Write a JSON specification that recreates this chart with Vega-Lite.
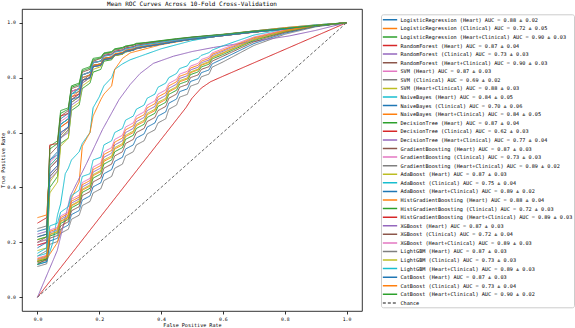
{"$schema":"https://vega.github.io/schema/vega-lite/v6.json","width":340,"height":302,"autosize":{"type":"none"},"padding":{"left":22,"top":9,"right":213,"bottom":17},"background":"white","config":{"view":{"stroke":"#000","strokeWidth":0.8},"font":"DejaVu Sans Mono"},"title":{"text":"Mean ROC Curves Across 10-Fold Cross-Validation","fontSize":6,"font":"DejaVu Sans Mono","fontWeight":"normal","anchor":"middle","offset":2.5,"color":"#000"},
"datasets":{"names":[{"s":0,"n":"LogisticRegression (Heart) AUC = 0.88 ± 0.02"},{"s":1,"n":"LogisticRegression (Clinical) AUC = 0.72 ± 0.05"},{"s":2,"n":"LogisticRegression (Heart+Clinical) AUC = 0.90 ± 0.03"},{"s":3,"n":"RandomForest (Heart) AUC = 0.87 ± 0.04"},{"s":4,"n":"RandomForest (Clinical) AUC = 0.73 ± 0.03"},{"s":5,"n":"RandomForest (Heart+Clinical) AUC = 0.90 ± 0.03"},{"s":6,"n":"SVM (Heart) AUC = 0.87 ± 0.03"},{"s":7,"n":"SVM (Clinical) AUC = 0.69 ± 0.02"},{"s":8,"n":"SVM (Heart+Clinical) AUC = 0.88 ± 0.03"},{"s":9,"n":"NaiveBayes (Heart) AUC = 0.84 ± 0.05"},{"s":10,"n":"NaiveBayes (Clinical) AUC = 0.70 ± 0.06"},{"s":11,"n":"NaiveBayes (Heart+Clinical) AUC = 0.84 ± 0.05"},{"s":12,"n":"DecisionTree (Heart) AUC = 0.87 ± 0.04"},{"s":13,"n":"DecisionTree (Clinical) AUC = 0.62 ± 0.03"},{"s":14,"n":"DecisionTree (Heart+Clinical) AUC = 0.77 ± 0.04"},{"s":15,"n":"GradientBoosting (Heart) AUC = 0.87 ± 0.03"},{"s":16,"n":"GradientBoosting (Clinical) AUC = 0.73 ± 0.03"},{"s":17,"n":"GradientBoosting (Heart+Clinical) AUC = 0.89 ± 0.02"},{"s":18,"n":"AdaBoost (Heart) AUC = 0.87 ± 0.03"},{"s":19,"n":"AdaBoost (Clinical) AUC = 0.75 ± 0.04"},{"s":20,"n":"AdaBoost (Heart+Clinical) AUC = 0.89 ± 0.02"},{"s":21,"n":"HistGradientBoosting (Heart) AUC = 0.88 ± 0.04"},{"s":22,"n":"HistGradientBoosting (Clinical) AUC = 0.72 ± 0.03"},{"s":23,"n":"HistGradientBoosting (Heart+Clinical) AUC = 0.89 ± 0.03"},{"s":24,"n":"XGBoost (Heart) AUC = 0.87 ± 0.03"},{"s":25,"n":"XGBoost (Clinical) AUC = 0.72 ± 0.04"},{"s":26,"n":"XGBoost (Heart+Clinical) AUC = 0.89 ± 0.03"},{"s":27,"n":"LightGBM (Heart) AUC = 0.87 ± 0.03"},{"s":28,"n":"LightGBM (Clinical) AUC = 0.73 ± 0.03"},{"s":29,"n":"LightGBM (Heart+Clinical) AUC = 0.89 ± 0.03"},{"s":30,"n":"CatBoost (Heart) AUC = 0.87 ± 0.03"},{"s":31,"n":"CatBoost (Clinical) AUC = 0.73 ± 0.04"},{"s":32,"n":"CatBoost (Heart+Clinical) AUC = 0.90 ± 0.02"},{"s":33,"n":"Chance"}],
"pts":[
{"s":0,"x":0,"y":0.24},{"s":0,"x":0.03,"y":0.25},{"s":0,"x":0.04,"y":0.5},{"s":0,"x":0.065,"y":0.52},{"s":0,"x":0.075,"y":0.63},{"s":0,"x":0.1,"y":0.65},{"s":0,"x":0.11,"y":0.74},{"s":0,"x":0.135,"y":0.75},{"s":0,"x":0.145,"y":0.8},{"s":0,"x":0.17,"y":0.81},{"s":0,"x":0.18,"y":0.845},{"s":0,"x":0.205,"y":0.85},{"s":0,"x":0.215,"y":0.87},{"s":0,"x":0.24,"y":0.875},{"s":0,"x":0.25,"y":0.885},{"s":0,"x":0.275,"y":0.89},{"s":0,"x":0.285,"y":0.9},{"s":0,"x":0.31,"y":0.905},{"s":0,"x":0.32,"y":0.91},{"s":0,"x":0.35,"y":0.915},{"s":0,"x":0.4,"y":0.925},{"s":0,"x":0.45,"y":0.935},{"s":0,"x":0.5,"y":0.942},{"s":0,"x":0.6,"y":0.955},{"s":0,"x":0.7,"y":0.967},{"s":0,"x":0.8,"y":0.978},{"s":0,"x":0.9,"y":0.989},{"s":0,"x":1,"y":1},
{"s":1,"x":0,"y":0.133},{"s":1,"x":0.03,"y":0.143},{"s":1,"x":0.04,"y":0.228},{"s":1,"x":0.065,"y":0.238},{"s":1,"x":0.075,"y":0.275},{"s":1,"x":0.1,"y":0.29},{"s":1,"x":0.11,"y":0.333},{"s":1,"x":0.135,"y":0.348},{"s":1,"x":0.145,"y":0.39},{"s":1,"x":0.17,"y":0.405},{"s":1,"x":0.18,"y":0.443},{"s":1,"x":0.205,"y":0.458},{"s":1,"x":0.215,"y":0.495},{"s":1,"x":0.24,"y":0.51},{"s":1,"x":0.25,"y":0.54},{"s":1,"x":0.275,"y":0.555},{"s":1,"x":0.285,"y":0.585},{"s":1,"x":0.31,"y":0.6},{"s":1,"x":0.32,"y":0.625},{"s":1,"x":0.345,"y":0.64},{"s":1,"x":0.355,"y":0.665},{"s":1,"x":0.38,"y":0.68},{"s":1,"x":0.39,"y":0.705},{"s":1,"x":0.415,"y":0.72},{"s":1,"x":0.425,"y":0.748},{"s":1,"x":0.45,"y":0.763},{"s":1,"x":0.46,"y":0.785},{"s":1,"x":0.485,"y":0.795},{"s":1,"x":0.495,"y":0.818},{"s":1,"x":0.52,"y":0.828},{"s":1,"x":0.53,"y":0.845},{"s":1,"x":0.555,"y":0.855},{"s":1,"x":0.565,"y":0.873},{"s":1,"x":0.6,"y":0.889},{"s":1,"x":0.7,"y":0.938},{"s":1,"x":0.8,"y":0.968},{"s":1,"x":0.9,"y":0.989},{"s":1,"x":1,"y":1},
{"s":2,"x":0,"y":0.2},{"s":2,"x":0.03,"y":0.21},{"s":2,"x":0.04,"y":0.55},{"s":2,"x":0.065,"y":0.57},{"s":2,"x":0.075,"y":0.68},{"s":2,"x":0.1,"y":0.69},{"s":2,"x":0.11,"y":0.77},{"s":2,"x":0.135,"y":0.78},{"s":2,"x":0.145,"y":0.83},{"s":2,"x":0.17,"y":0.84},{"s":2,"x":0.18,"y":0.87},{"s":2,"x":0.205,"y":0.875},{"s":2,"x":0.215,"y":0.89},{"s":2,"x":0.24,"y":0.895},{"s":2,"x":0.25,"y":0.905},{"s":2,"x":0.275,"y":0.91},{"s":2,"x":0.285,"y":0.915},{"s":2,"x":0.31,"y":0.92},{"s":2,"x":0.32,"y":0.925},{"s":2,"x":0.35,"y":0.928},{"s":2,"x":0.4,"y":0.935},{"s":2,"x":0.45,"y":0.942},{"s":2,"x":0.5,"y":0.948},{"s":2,"x":0.6,"y":0.958},{"s":2,"x":0.7,"y":0.97},{"s":2,"x":0.8,"y":0.98},{"s":2,"x":0.9,"y":0.99},{"s":2,"x":1,"y":1},
{"s":3,"x":0,"y":0.27},{"s":3,"x":0.03,"y":0.29},{"s":3,"x":0.04,"y":0.47},{"s":3,"x":0.065,"y":0.5},{"s":3,"x":0.075,"y":0.62},{"s":3,"x":0.1,"y":0.64},{"s":3,"x":0.11,"y":0.73},{"s":3,"x":0.135,"y":0.74},{"s":3,"x":0.145,"y":0.79},{"s":3,"x":0.17,"y":0.8},{"s":3,"x":0.18,"y":0.84},{"s":3,"x":0.205,"y":0.845},{"s":3,"x":0.215,"y":0.865},{"s":3,"x":0.24,"y":0.87},{"s":3,"x":0.25,"y":0.88},{"s":3,"x":0.275,"y":0.887},{"s":3,"x":0.285,"y":0.895},{"s":3,"x":0.31,"y":0.9},{"s":3,"x":0.32,"y":0.905},{"s":3,"x":0.35,"y":0.912},{"s":3,"x":0.4,"y":0.922},{"s":3,"x":0.45,"y":0.932},{"s":3,"x":0.5,"y":0.94},{"s":3,"x":0.6,"y":0.953},{"s":3,"x":0.7,"y":0.965},{"s":3,"x":0.8,"y":0.977},{"s":3,"x":0.9,"y":0.988},{"s":3,"x":1,"y":1},
{"s":4,"x":0,"y":0.137},{"s":4,"x":0.03,"y":0.147},{"s":4,"x":0.04,"y":0.235},{"s":4,"x":0.065,"y":0.245},{"s":4,"x":0.075,"y":0.284},{"s":4,"x":0.1,"y":0.299},{"s":4,"x":0.11,"y":0.343},{"s":4,"x":0.135,"y":0.358},{"s":4,"x":0.145,"y":0.402},{"s":4,"x":0.17,"y":0.417},{"s":4,"x":0.18,"y":0.456},{"s":4,"x":0.205,"y":0.471},{"s":4,"x":0.215,"y":0.51},{"s":4,"x":0.24,"y":0.525},{"s":4,"x":0.25,"y":0.555},{"s":4,"x":0.275,"y":0.57},{"s":4,"x":0.285,"y":0.6},{"s":4,"x":0.31,"y":0.615},{"s":4,"x":0.32,"y":0.64},{"s":4,"x":0.345,"y":0.655},{"s":4,"x":0.355,"y":0.68},{"s":4,"x":0.38,"y":0.695},{"s":4,"x":0.39,"y":0.72},{"s":4,"x":0.415,"y":0.735},{"s":4,"x":0.425,"y":0.761},{"s":4,"x":0.45,"y":0.776},{"s":4,"x":0.46,"y":0.797},{"s":4,"x":0.485,"y":0.807},{"s":4,"x":0.495,"y":0.828},{"s":4,"x":0.52,"y":0.838},{"s":4,"x":0.53,"y":0.854},{"s":4,"x":0.555,"y":0.864},{"s":4,"x":0.565,"y":0.88},{"s":4,"x":0.6,"y":0.896},{"s":4,"x":0.7,"y":0.942},{"s":4,"x":0.8,"y":0.97},{"s":4,"x":0.9,"y":0.99},{"s":4,"x":1,"y":1},
{"s":5,"x":0,"y":0.22},{"s":5,"x":0.03,"y":0.23},{"s":5,"x":0.04,"y":0.52},{"s":5,"x":0.065,"y":0.55},{"s":5,"x":0.075,"y":0.66},{"s":5,"x":0.1,"y":0.68},{"s":5,"x":0.11,"y":0.76},{"s":5,"x":0.135,"y":0.77},{"s":5,"x":0.145,"y":0.82},{"s":5,"x":0.17,"y":0.83},{"s":5,"x":0.18,"y":0.86},{"s":5,"x":0.205,"y":0.87},{"s":5,"x":0.215,"y":0.885},{"s":5,"x":0.24,"y":0.89},{"s":5,"x":0.25,"y":0.9},{"s":5,"x":0.275,"y":0.905},{"s":5,"x":0.285,"y":0.912},{"s":5,"x":0.31,"y":0.918},{"s":5,"x":0.32,"y":0.922},{"s":5,"x":0.35,"y":0.926},{"s":5,"x":0.4,"y":0.933},{"s":5,"x":0.45,"y":0.94},{"s":5,"x":0.5,"y":0.947},{"s":5,"x":0.6,"y":0.957},{"s":5,"x":0.7,"y":0.969},{"s":5,"x":0.8,"y":0.979},{"s":5,"x":0.9,"y":0.99},{"s":5,"x":1,"y":1},
{"s":6,"x":0,"y":0.19},{"s":6,"x":0.03,"y":0.2},{"s":6,"x":0.04,"y":0.45},{"s":6,"x":0.065,"y":0.48},{"s":6,"x":0.075,"y":0.6},{"s":6,"x":0.1,"y":0.62},{"s":6,"x":0.11,"y":0.72},{"s":6,"x":0.135,"y":0.74},{"s":6,"x":0.145,"y":0.79},{"s":6,"x":0.17,"y":0.8},{"s":6,"x":0.18,"y":0.84},{"s":6,"x":0.205,"y":0.85},{"s":6,"x":0.215,"y":0.87},{"s":6,"x":0.24,"y":0.875},{"s":6,"x":0.25,"y":0.885},{"s":6,"x":0.275,"y":0.89},{"s":6,"x":0.285,"y":0.897},{"s":6,"x":0.31,"y":0.902},{"s":6,"x":0.32,"y":0.907},{"s":6,"x":0.35,"y":0.913},{"s":6,"x":0.4,"y":0.922},{"s":6,"x":0.45,"y":0.932},{"s":6,"x":0.5,"y":0.94},{"s":6,"x":0.6,"y":0.953},{"s":6,"x":0.7,"y":0.966},{"s":6,"x":0.8,"y":0.977},{"s":6,"x":0.9,"y":0.988},{"s":6,"x":1,"y":1},
{"s":7,"x":0,"y":0.112},{"s":7,"x":0.03,"y":0.122},{"s":7,"x":0.04,"y":0.193},{"s":7,"x":0.065,"y":0.203},{"s":7,"x":0.075,"y":0.233},{"s":7,"x":0.1,"y":0.248},{"s":7,"x":0.11,"y":0.284},{"s":7,"x":0.135,"y":0.299},{"s":7,"x":0.145,"y":0.334},{"s":7,"x":0.17,"y":0.349},{"s":7,"x":0.18,"y":0.38},{"s":7,"x":0.205,"y":0.395},{"s":7,"x":0.215,"y":0.425},{"s":7,"x":0.24,"y":0.44},{"s":7,"x":0.25,"y":0.47},{"s":7,"x":0.275,"y":0.485},{"s":7,"x":0.285,"y":0.515},{"s":7,"x":0.31,"y":0.53},{"s":7,"x":0.32,"y":0.555},{"s":7,"x":0.345,"y":0.57},{"s":7,"x":0.355,"y":0.595},{"s":7,"x":0.38,"y":0.61},{"s":7,"x":0.39,"y":0.635},{"s":7,"x":0.415,"y":0.65},{"s":7,"x":0.425,"y":0.685},{"s":7,"x":0.45,"y":0.7},{"s":7,"x":0.46,"y":0.729},{"s":7,"x":0.485,"y":0.739},{"s":7,"x":0.495,"y":0.769},{"s":7,"x":0.52,"y":0.779},{"s":7,"x":0.53,"y":0.803},{"s":7,"x":0.555,"y":0.813},{"s":7,"x":0.565,"y":0.838},{"s":7,"x":0.6,"y":0.857},{"s":7,"x":0.7,"y":0.917},{"s":7,"x":0.8,"y":0.958},{"s":7,"x":0.9,"y":0.985},{"s":7,"x":1,"y":1},
{"s":8,"x":0,"y":0.17},{"s":8,"x":0.03,"y":0.18},{"s":8,"x":0.04,"y":0.42},{"s":8,"x":0.065,"y":0.46},{"s":8,"x":0.075,"y":0.58},{"s":8,"x":0.1,"y":0.61},{"s":8,"x":0.11,"y":0.71},{"s":8,"x":0.135,"y":0.73},{"s":8,"x":0.145,"y":0.78},{"s":8,"x":0.17,"y":0.8},{"s":8,"x":0.18,"y":0.84},{"s":8,"x":0.205,"y":0.85},{"s":8,"x":0.215,"y":0.87},{"s":8,"x":0.24,"y":0.875},{"s":8,"x":0.25,"y":0.885},{"s":8,"x":0.275,"y":0.89},{"s":8,"x":0.285,"y":0.897},{"s":8,"x":0.31,"y":0.903},{"s":8,"x":0.32,"y":0.908},{"s":8,"x":0.35,"y":0.914},{"s":8,"x":0.4,"y":0.923},{"s":8,"x":0.45,"y":0.933},{"s":8,"x":0.5,"y":0.941},{"s":8,"x":0.6,"y":0.954},{"s":8,"x":0.7,"y":0.966},{"s":8,"x":0.8,"y":0.977},{"s":8,"x":0.9,"y":0.988},{"s":8,"x":1,"y":1},
{"s":9,"x":0,"y":0.12},{"s":9,"x":0.03,"y":0.13},{"s":9,"x":0.05,"y":0.2},{"s":9,"x":0.065,"y":0.3},{"s":9,"x":0.075,"y":0.34},{"s":9,"x":0.09,"y":0.45},{"s":9,"x":0.1,"y":0.47},{"s":9,"x":0.11,"y":0.5},{"s":9,"x":0.135,"y":0.53},{"s":9,"x":0.145,"y":0.56},{"s":9,"x":0.17,"y":0.6},{"s":9,"x":0.18,"y":0.69},{"s":9,"x":0.2,"y":0.73},{"s":9,"x":0.215,"y":0.77},{"s":9,"x":0.24,"y":0.8},{"s":9,"x":0.25,"y":0.83},{"s":9,"x":0.275,"y":0.85},{"s":9,"x":0.3,"y":0.865},{"s":9,"x":0.35,"y":0.885},{"s":9,"x":0.4,"y":0.905},{"s":9,"x":0.5,"y":0.935},{"s":9,"x":0.6,"y":0.955},{"s":9,"x":0.7,"y":0.97},{"s":9,"x":0.8,"y":0.982},{"s":9,"x":0.9,"y":0.992},{"s":9,"x":1,"y":1},
{"s":10,"x":0,"y":0.119},{"s":10,"x":0.03,"y":0.129},{"s":10,"x":0.04,"y":0.205},{"s":10,"x":0.065,"y":0.215},{"s":10,"x":0.075,"y":0.248},{"s":10,"x":0.1,"y":0.263},{"s":10,"x":0.11,"y":0.301},{"s":10,"x":0.135,"y":0.316},{"s":10,"x":0.145,"y":0.354},{"s":10,"x":0.17,"y":0.369},{"s":10,"x":0.18,"y":0.402},{"s":10,"x":0.205,"y":0.417},{"s":10,"x":0.215,"y":0.45},{"s":10,"x":0.24,"y":0.465},{"s":10,"x":0.25,"y":0.495},{"s":10,"x":0.275,"y":0.51},{"s":10,"x":0.285,"y":0.54},{"s":10,"x":0.31,"y":0.555},{"s":10,"x":0.32,"y":0.58},{"s":10,"x":0.345,"y":0.595},{"s":10,"x":0.355,"y":0.62},{"s":10,"x":0.38,"y":0.635},{"s":10,"x":0.39,"y":0.66},{"s":10,"x":0.415,"y":0.675},{"s":10,"x":0.425,"y":0.707},{"s":10,"x":0.45,"y":0.722},{"s":10,"x":0.46,"y":0.749},{"s":10,"x":0.485,"y":0.759},{"s":10,"x":0.495,"y":0.786},{"s":10,"x":0.52,"y":0.796},{"s":10,"x":0.53,"y":0.818},{"s":10,"x":0.555,"y":0.828},{"s":10,"x":0.565,"y":0.85},{"s":10,"x":0.6,"y":0.869},{"s":10,"x":0.7,"y":0.924},{"s":10,"x":0.8,"y":0.962},{"s":10,"x":0.9,"y":0.987},{"s":10,"x":1,"y":1},
{"s":11,"x":0,"y":0.13},{"s":11,"x":0.03,"y":0.14},{"s":11,"x":0.065,"y":0.2},{"s":11,"x":0.075,"y":0.24},{"s":11,"x":0.1,"y":0.3},{"s":11,"x":0.11,"y":0.36},{"s":11,"x":0.135,"y":0.42},{"s":11,"x":0.145,"y":0.55},{"s":11,"x":0.17,"y":0.6},{"s":11,"x":0.18,"y":0.66},{"s":11,"x":0.205,"y":0.72},{"s":11,"x":0.215,"y":0.74},{"s":11,"x":0.24,"y":0.77},{"s":11,"x":0.25,"y":0.83},{"s":11,"x":0.275,"y":0.87},{"s":11,"x":0.3,"y":0.89},{"s":11,"x":0.35,"y":0.905},{"s":11,"x":0.4,"y":0.92},{"s":11,"x":0.5,"y":0.94},{"s":11,"x":0.6,"y":0.957},{"s":11,"x":0.7,"y":0.97},{"s":11,"x":0.8,"y":0.982},{"s":11,"x":0.9,"y":0.992},{"s":11,"x":1,"y":1},
{"s":12,"x":0,"y":0.12},{"s":12,"x":0.03,"y":0.14},{"s":12,"x":0.04,"y":0.4},{"s":12,"x":0.065,"y":0.44},{"s":12,"x":0.075,"y":0.56},{"s":12,"x":0.1,"y":0.58},{"s":12,"x":0.11,"y":0.68},{"s":12,"x":0.135,"y":0.7},{"s":12,"x":0.145,"y":0.76},{"s":12,"x":0.17,"y":0.78},{"s":12,"x":0.18,"y":0.82},{"s":12,"x":0.205,"y":0.83},{"s":12,"x":0.215,"y":0.86},{"s":12,"x":0.24,"y":0.865},{"s":12,"x":0.25,"y":0.88},{"s":12,"x":0.275,"y":0.885},{"s":12,"x":0.285,"y":0.893},{"s":12,"x":0.31,"y":0.9},{"s":12,"x":0.32,"y":0.905},{"s":12,"x":0.35,"y":0.912},{"s":12,"x":0.4,"y":0.922},{"s":12,"x":0.45,"y":0.932},{"s":12,"x":0.5,"y":0.94},{"s":12,"x":0.6,"y":0.953},{"s":12,"x":0.7,"y":0.966},{"s":12,"x":0.8,"y":0.977},{"s":12,"x":0.9,"y":0.988},{"s":12,"x":1,"y":1},
{"s":13,"x":0,"y":0},{"s":13,"x":0.48,"y":0.69},{"s":13,"x":0.5,"y":0.725},{"s":13,"x":0.53,"y":0.762},{"s":13,"x":0.56,"y":0.785},{"s":13,"x":0.6,"y":0.805},{"s":13,"x":1,"y":1},
{"s":14,"x":0,"y":0},{"s":14,"x":0.064,"y":0.17},{"s":14,"x":0.107,"y":0.37},{"s":14,"x":0.16,"y":0.49},{"s":14,"x":0.21,"y":0.61},{"s":14,"x":0.264,"y":0.72},{"s":14,"x":0.3,"y":0.775},{"s":14,"x":0.332,"y":0.815},{"s":14,"x":0.375,"y":0.852},{"s":14,"x":0.44,"y":0.878},{"s":14,"x":0.5,"y":0.895},{"s":14,"x":0.57,"y":0.91},{"s":14,"x":0.7,"y":0.932},{"s":14,"x":0.815,"y":0.952},{"s":14,"x":0.9,"y":0.972},{"s":14,"x":1,"y":1},
{"s":15,"x":0,"y":0.2},{"s":15,"x":0.03,"y":0.22},{"s":15,"x":0.04,"y":0.44},{"s":15,"x":0.065,"y":0.47},{"s":15,"x":0.075,"y":0.59},{"s":15,"x":0.1,"y":0.62},{"s":15,"x":0.11,"y":0.72},{"s":15,"x":0.135,"y":0.74},{"s":15,"x":0.145,"y":0.79},{"s":15,"x":0.17,"y":0.81},{"s":15,"x":0.18,"y":0.845},{"s":15,"x":0.205,"y":0.85},{"s":15,"x":0.215,"y":0.87},{"s":15,"x":0.24,"y":0.875},{"s":15,"x":0.25,"y":0.885},{"s":15,"x":0.275,"y":0.89},{"s":15,"x":0.285,"y":0.897},{"s":15,"x":0.31,"y":0.903},{"s":15,"x":0.32,"y":0.908},{"s":15,"x":0.35,"y":0.914},{"s":15,"x":0.4,"y":0.923},{"s":15,"x":0.45,"y":0.933},{"s":15,"x":0.5,"y":0.941},{"s":15,"x":0.6,"y":0.954},{"s":15,"x":0.7,"y":0.966},{"s":15,"x":0.8,"y":0.977},{"s":15,"x":0.9,"y":0.988},{"s":15,"x":1,"y":1},
{"s":16,"x":0,"y":0.143},{"s":16,"x":0.03,"y":0.153},{"s":16,"x":0.04,"y":0.245},{"s":16,"x":0.065,"y":0.255},{"s":16,"x":0.075,"y":0.296},{"s":16,"x":0.1,"y":0.311},{"s":16,"x":0.11,"y":0.357},{"s":16,"x":0.135,"y":0.372},{"s":16,"x":0.145,"y":0.418},{"s":16,"x":0.17,"y":0.433},{"s":16,"x":0.18,"y":0.474},{"s":16,"x":0.205,"y":0.489},{"s":16,"x":0.215,"y":0.53},{"s":16,"x":0.24,"y":0.545},{"s":16,"x":0.25,"y":0.575},{"s":16,"x":0.275,"y":0.59},{"s":16,"x":0.285,"y":0.62},{"s":16,"x":0.31,"y":0.635},{"s":16,"x":0.32,"y":0.66},{"s":16,"x":0.345,"y":0.675},{"s":16,"x":0.355,"y":0.7},{"s":16,"x":0.38,"y":0.715},{"s":16,"x":0.39,"y":0.74},{"s":16,"x":0.415,"y":0.755},{"s":16,"x":0.425,"y":0.779},{"s":16,"x":0.45,"y":0.794},{"s":16,"x":0.46,"y":0.813},{"s":16,"x":0.485,"y":0.823},{"s":16,"x":0.495,"y":0.842},{"s":16,"x":0.52,"y":0.852},{"s":16,"x":0.53,"y":0.866},{"s":16,"x":0.555,"y":0.876},{"s":16,"x":0.565,"y":0.89},{"s":16,"x":0.6,"y":0.905},{"s":16,"x":0.7,"y":0.948},{"s":16,"x":0.8,"y":0.974},{"s":16,"x":0.9,"y":0.99},{"s":16,"x":1,"y":1},
{"s":17,"x":0,"y":0.15},{"s":17,"x":0.03,"y":0.17},{"s":17,"x":0.04,"y":0.47},{"s":17,"x":0.065,"y":0.5},{"s":17,"x":0.075,"y":0.63},{"s":17,"x":0.1,"y":0.65},{"s":17,"x":0.11,"y":0.74},{"s":17,"x":0.135,"y":0.76},{"s":17,"x":0.145,"y":0.81},{"s":17,"x":0.17,"y":0.82},{"s":17,"x":0.18,"y":0.855},{"s":17,"x":0.205,"y":0.86},{"s":17,"x":0.215,"y":0.88},{"s":17,"x":0.24,"y":0.885},{"s":17,"x":0.25,"y":0.895},{"s":17,"x":0.275,"y":0.9},{"s":17,"x":0.285,"y":0.907},{"s":17,"x":0.31,"y":0.912},{"s":17,"x":0.32,"y":0.917},{"s":17,"x":0.35,"y":0.922},{"s":17,"x":0.4,"y":0.93},{"s":17,"x":0.45,"y":0.938},{"s":17,"x":0.5,"y":0.945},{"s":17,"x":0.6,"y":0.956},{"s":17,"x":0.7,"y":0.968},{"s":17,"x":0.8,"y":0.978},{"s":17,"x":0.9,"y":0.989},{"s":17,"x":1,"y":1},
{"s":18,"x":0,"y":0.21},{"s":18,"x":0.03,"y":0.22},{"s":18,"x":0.04,"y":0.38},{"s":18,"x":0.065,"y":0.42},{"s":18,"x":0.075,"y":0.55},{"s":18,"x":0.1,"y":0.58},{"s":18,"x":0.11,"y":0.69},{"s":18,"x":0.135,"y":0.71},{"s":18,"x":0.145,"y":0.77},{"s":18,"x":0.17,"y":0.79},{"s":18,"x":0.18,"y":0.83},{"s":18,"x":0.205,"y":0.84},{"s":18,"x":0.215,"y":0.865},{"s":18,"x":0.24,"y":0.87},{"s":18,"x":0.25,"y":0.88},{"s":18,"x":0.275,"y":0.886},{"s":18,"x":0.285,"y":0.894},{"s":18,"x":0.31,"y":0.9},{"s":18,"x":0.32,"y":0.906},{"s":18,"x":0.35,"y":0.913},{"s":18,"x":0.4,"y":0.922},{"s":18,"x":0.45,"y":0.932},{"s":18,"x":0.5,"y":0.94},{"s":18,"x":0.6,"y":0.953},{"s":18,"x":0.7,"y":0.966},{"s":18,"x":0.8,"y":0.977},{"s":18,"x":0.9,"y":0.988},{"s":18,"x":1,"y":1},
{"s":19,"x":0,"y":0.15},{"s":19,"x":0.03,"y":0.16},{"s":19,"x":0.04,"y":0.26},{"s":19,"x":0.065,"y":0.27},{"s":19,"x":0.075,"y":0.31},{"s":19,"x":0.1,"y":0.33},{"s":19,"x":0.11,"y":0.37},{"s":19,"x":0.135,"y":0.39},{"s":19,"x":0.145,"y":0.44},{"s":19,"x":0.17,"y":0.45},{"s":19,"x":0.18,"y":0.5},{"s":19,"x":0.205,"y":0.51},{"s":19,"x":0.215,"y":0.555},{"s":19,"x":0.24,"y":0.57},{"s":19,"x":0.25,"y":0.6},{"s":19,"x":0.275,"y":0.615},{"s":19,"x":0.285,"y":0.645},{"s":19,"x":0.31,"y":0.66},{"s":19,"x":0.32,"y":0.685},{"s":19,"x":0.345,"y":0.7},{"s":19,"x":0.355,"y":0.725},{"s":19,"x":0.38,"y":0.74},{"s":19,"x":0.39,"y":0.765},{"s":19,"x":0.415,"y":0.78},{"s":19,"x":0.425,"y":0.8},{"s":19,"x":0.45,"y":0.815},{"s":19,"x":0.46,"y":0.833},{"s":19,"x":0.485,"y":0.843},{"s":19,"x":0.495,"y":0.86},{"s":19,"x":0.52,"y":0.87},{"s":19,"x":0.53,"y":0.881},{"s":19,"x":0.555,"y":0.891},{"s":19,"x":0.565,"y":0.9},{"s":19,"x":0.6,"y":0.916},{"s":19,"x":0.7,"y":0.955},{"s":19,"x":0.8,"y":0.977},{"s":19,"x":0.9,"y":0.992},{"s":19,"x":1,"y":1},
{"s":20,"x":0,"y":0.18},{"s":20,"x":0.03,"y":0.2},{"s":20,"x":0.04,"y":0.5},{"s":20,"x":0.065,"y":0.53},{"s":20,"x":0.075,"y":0.65},{"s":20,"x":0.1,"y":0.67},{"s":20,"x":0.11,"y":0.75},{"s":20,"x":0.135,"y":0.76},{"s":20,"x":0.145,"y":0.81},{"s":20,"x":0.17,"y":0.82},{"s":20,"x":0.18,"y":0.855},{"s":20,"x":0.205,"y":0.86},{"s":20,"x":0.215,"y":0.88},{"s":20,"x":0.24,"y":0.885},{"s":20,"x":0.25,"y":0.895},{"s":20,"x":0.275,"y":0.9},{"s":20,"x":0.285,"y":0.907},{"s":20,"x":0.31,"y":0.912},{"s":20,"x":0.32,"y":0.917},{"s":20,"x":0.35,"y":0.922},{"s":20,"x":0.4,"y":0.93},{"s":20,"x":0.45,"y":0.938},{"s":20,"x":0.5,"y":0.945},{"s":20,"x":0.6,"y":0.956},{"s":20,"x":0.7,"y":0.968},{"s":20,"x":0.8,"y":0.978},{"s":20,"x":0.9,"y":0.989},{"s":20,"x":1,"y":1},
{"s":21,"x":0,"y":0.29},{"s":21,"x":0.03,"y":0.3},{"s":21,"x":0.04,"y":0.48},{"s":21,"x":0.065,"y":0.51},{"s":21,"x":0.075,"y":0.62},{"s":21,"x":0.1,"y":0.64},{"s":21,"x":0.11,"y":0.73},{"s":21,"x":0.135,"y":0.75},{"s":21,"x":0.145,"y":0.8},{"s":21,"x":0.17,"y":0.81},{"s":21,"x":0.18,"y":0.845},{"s":21,"x":0.205,"y":0.85},{"s":21,"x":0.215,"y":0.87},{"s":21,"x":0.24,"y":0.875},{"s":21,"x":0.25,"y":0.887},{"s":21,"x":0.275,"y":0.892},{"s":21,"x":0.285,"y":0.9},{"s":21,"x":0.31,"y":0.905},{"s":21,"x":0.32,"y":0.91},{"s":21,"x":0.35,"y":0.916},{"s":21,"x":0.4,"y":0.925},{"s":21,"x":0.45,"y":0.934},{"s":21,"x":0.5,"y":0.942},{"s":21,"x":0.6,"y":0.955},{"s":21,"x":0.7,"y":0.967},{"s":21,"x":0.8,"y":0.978},{"s":21,"x":0.9,"y":0.989},{"s":21,"x":1,"y":1},
{"s":22,"x":0,"y":0.13},{"s":22,"x":0.03,"y":0.14},{"s":22,"x":0.04,"y":0.223},{"s":22,"x":0.065,"y":0.233},{"s":22,"x":0.075,"y":0.269},{"s":22,"x":0.1,"y":0.284},{"s":22,"x":0.11,"y":0.326},{"s":22,"x":0.135,"y":0.341},{"s":22,"x":0.145,"y":0.382},{"s":22,"x":0.17,"y":0.397},{"s":22,"x":0.18,"y":0.434},{"s":22,"x":0.205,"y":0.449},{"s":22,"x":0.215,"y":0.485},{"s":22,"x":0.24,"y":0.5},{"s":22,"x":0.25,"y":0.53},{"s":22,"x":0.275,"y":0.545},{"s":22,"x":0.285,"y":0.575},{"s":22,"x":0.31,"y":0.59},{"s":22,"x":0.32,"y":0.615},{"s":22,"x":0.345,"y":0.63},{"s":22,"x":0.355,"y":0.655},{"s":22,"x":0.38,"y":0.67},{"s":22,"x":0.39,"y":0.695},{"s":22,"x":0.415,"y":0.71},{"s":22,"x":0.425,"y":0.739},{"s":22,"x":0.45,"y":0.754},{"s":22,"x":0.46,"y":0.777},{"s":22,"x":0.485,"y":0.787},{"s":22,"x":0.495,"y":0.811},{"s":22,"x":0.52,"y":0.821},{"s":22,"x":0.53,"y":0.839},{"s":22,"x":0.555,"y":0.849},{"s":22,"x":0.565,"y":0.868},{"s":22,"x":0.6,"y":0.884},{"s":22,"x":0.7,"y":0.935},{"s":22,"x":0.8,"y":0.967},{"s":22,"x":0.9,"y":0.988},{"s":22,"x":1,"y":1},
{"s":23,"x":0,"y":0.19},{"s":23,"x":0.03,"y":0.2},{"s":23,"x":0.04,"y":0.555},{"s":23,"x":0.065,"y":0.56},{"s":23,"x":0.075,"y":0.66},{"s":23,"x":0.1,"y":0.67},{"s":23,"x":0.11,"y":0.75},{"s":23,"x":0.135,"y":0.76},{"s":23,"x":0.145,"y":0.81},{"s":23,"x":0.17,"y":0.82},{"s":23,"x":0.18,"y":0.855},{"s":23,"x":0.205,"y":0.86},{"s":23,"x":0.215,"y":0.88},{"s":23,"x":0.24,"y":0.885},{"s":23,"x":0.25,"y":0.895},{"s":23,"x":0.275,"y":0.9},{"s":23,"x":0.285,"y":0.907},{"s":23,"x":0.31,"y":0.912},{"s":23,"x":0.32,"y":0.917},{"s":23,"x":0.35,"y":0.922},{"s":23,"x":0.4,"y":0.93},{"s":23,"x":0.45,"y":0.938},{"s":23,"x":0.5,"y":0.945},{"s":23,"x":0.6,"y":0.956},{"s":23,"x":0.7,"y":0.968},{"s":23,"x":0.8,"y":0.978},{"s":23,"x":0.9,"y":0.989},{"s":23,"x":1,"y":1},
{"s":24,"x":0,"y":0.23},{"s":24,"x":0.03,"y":0.24},{"s":24,"x":0.04,"y":0.43},{"s":24,"x":0.065,"y":0.46},{"s":24,"x":0.075,"y":0.58},{"s":24,"x":0.1,"y":0.6},{"s":24,"x":0.11,"y":0.7},{"s":24,"x":0.135,"y":0.72},{"s":24,"x":0.145,"y":0.78},{"s":24,"x":0.17,"y":0.8},{"s":24,"x":0.18,"y":0.84},{"s":24,"x":0.205,"y":0.845},{"s":24,"x":0.215,"y":0.865},{"s":24,"x":0.24,"y":0.87},{"s":24,"x":0.25,"y":0.882},{"s":24,"x":0.275,"y":0.888},{"s":24,"x":0.285,"y":0.895},{"s":24,"x":0.31,"y":0.9},{"s":24,"x":0.32,"y":0.906},{"s":24,"x":0.35,"y":0.913},{"s":24,"x":0.4,"y":0.922},{"s":24,"x":0.45,"y":0.932},{"s":24,"x":0.5,"y":0.94},{"s":24,"x":0.6,"y":0.953},{"s":24,"x":0.7,"y":0.966},{"s":24,"x":0.8,"y":0.977},{"s":24,"x":0.9,"y":0.988},{"s":24,"x":1,"y":1},
{"s":25,"x":0,"y":0.125},{"s":25,"x":0.03,"y":0.135},{"s":25,"x":0.04,"y":0.215},{"s":25,"x":0.065,"y":0.225},{"s":25,"x":0.075,"y":0.26},{"s":25,"x":0.1,"y":0.275},{"s":25,"x":0.11,"y":0.315},{"s":25,"x":0.135,"y":0.33},{"s":25,"x":0.145,"y":0.37},{"s":25,"x":0.17,"y":0.385},{"s":25,"x":0.18,"y":0.42},{"s":25,"x":0.205,"y":0.435},{"s":25,"x":0.215,"y":0.47},{"s":25,"x":0.24,"y":0.485},{"s":25,"x":0.25,"y":0.515},{"s":25,"x":0.275,"y":0.53},{"s":25,"x":0.285,"y":0.56},{"s":25,"x":0.31,"y":0.575},{"s":25,"x":0.32,"y":0.6},{"s":25,"x":0.345,"y":0.615},{"s":25,"x":0.355,"y":0.64},{"s":25,"x":0.38,"y":0.655},{"s":25,"x":0.39,"y":0.68},{"s":25,"x":0.415,"y":0.695},{"s":25,"x":0.425,"y":0.725},{"s":25,"x":0.45,"y":0.74},{"s":25,"x":0.46,"y":0.765},{"s":25,"x":0.485,"y":0.775},{"s":25,"x":0.495,"y":0.8},{"s":25,"x":0.52,"y":0.81},{"s":25,"x":0.53,"y":0.83},{"s":25,"x":0.555,"y":0.84},{"s":25,"x":0.565,"y":0.86},{"s":25,"x":0.6,"y":0.878},{"s":25,"x":0.7,"y":0.93},{"s":25,"x":0.8,"y":0.965},{"s":25,"x":0.9,"y":0.988},{"s":25,"x":1,"y":1},
{"s":26,"x":0,"y":0.2},{"s":26,"x":0.03,"y":0.21},{"s":26,"x":0.04,"y":0.49},{"s":26,"x":0.065,"y":0.52},{"s":26,"x":0.075,"y":0.64},{"s":26,"x":0.1,"y":0.66},{"s":26,"x":0.11,"y":0.75},{"s":26,"x":0.135,"y":0.76},{"s":26,"x":0.145,"y":0.81},{"s":26,"x":0.17,"y":0.82},{"s":26,"x":0.18,"y":0.855},{"s":26,"x":0.205,"y":0.86},{"s":26,"x":0.215,"y":0.878},{"s":26,"x":0.24,"y":0.883},{"s":26,"x":0.25,"y":0.893},{"s":26,"x":0.275,"y":0.898},{"s":26,"x":0.285,"y":0.905},{"s":26,"x":0.31,"y":0.91},{"s":26,"x":0.32,"y":0.915},{"s":26,"x":0.35,"y":0.92},{"s":26,"x":0.4,"y":0.929},{"s":26,"x":0.45,"y":0.937},{"s":26,"x":0.5,"y":0.944},{"s":26,"x":0.6,"y":0.956},{"s":26,"x":0.7,"y":0.968},{"s":26,"x":0.8,"y":0.978},{"s":26,"x":0.9,"y":0.989},{"s":26,"x":1,"y":1},
{"s":27,"x":0,"y":0.25},{"s":27,"x":0.03,"y":0.26},{"s":27,"x":0.04,"y":0.44},{"s":27,"x":0.065,"y":0.47},{"s":27,"x":0.075,"y":0.58},{"s":27,"x":0.1,"y":0.61},{"s":27,"x":0.11,"y":0.71},{"s":27,"x":0.135,"y":0.73},{"s":27,"x":0.145,"y":0.79},{"s":27,"x":0.17,"y":0.8},{"s":27,"x":0.18,"y":0.84},{"s":27,"x":0.205,"y":0.845},{"s":27,"x":0.215,"y":0.865},{"s":27,"x":0.24,"y":0.87},{"s":27,"x":0.25,"y":0.882},{"s":27,"x":0.275,"y":0.888},{"s":27,"x":0.285,"y":0.895},{"s":27,"x":0.31,"y":0.9},{"s":27,"x":0.32,"y":0.906},{"s":27,"x":0.35,"y":0.913},{"s":27,"x":0.4,"y":0.922},{"s":27,"x":0.45,"y":0.932},{"s":27,"x":0.5,"y":0.94},{"s":27,"x":0.6,"y":0.953},{"s":27,"x":0.7,"y":0.966},{"s":27,"x":0.8,"y":0.977},{"s":27,"x":0.9,"y":0.988},{"s":27,"x":1,"y":1},
{"s":28,"x":0,"y":0.134},{"s":28,"x":0.03,"y":0.144},{"s":28,"x":0.04,"y":0.23},{"s":28,"x":0.065,"y":0.24},{"s":28,"x":0.075,"y":0.278},{"s":28,"x":0.1,"y":0.293},{"s":28,"x":0.11,"y":0.336},{"s":28,"x":0.135,"y":0.351},{"s":28,"x":0.145,"y":0.394},{"s":28,"x":0.17,"y":0.409},{"s":28,"x":0.18,"y":0.447},{"s":28,"x":0.205,"y":0.462},{"s":28,"x":0.215,"y":0.5},{"s":28,"x":0.24,"y":0.515},{"s":28,"x":0.25,"y":0.545},{"s":28,"x":0.275,"y":0.56},{"s":28,"x":0.285,"y":0.59},{"s":28,"x":0.31,"y":0.605},{"s":28,"x":0.32,"y":0.63},{"s":28,"x":0.345,"y":0.645},{"s":28,"x":0.355,"y":0.67},{"s":28,"x":0.38,"y":0.685},{"s":28,"x":0.39,"y":0.71},{"s":28,"x":0.415,"y":0.725},{"s":28,"x":0.425,"y":0.752},{"s":28,"x":0.45,"y":0.767},{"s":28,"x":0.46,"y":0.789},{"s":28,"x":0.485,"y":0.799},{"s":28,"x":0.495,"y":0.821},{"s":28,"x":0.52,"y":0.831},{"s":28,"x":0.53,"y":0.848},{"s":28,"x":0.555,"y":0.858},{"s":28,"x":0.565,"y":0.875},{"s":28,"x":0.6,"y":0.891},{"s":28,"x":0.7,"y":0.939},{"s":28,"x":0.8,"y":0.969},{"s":28,"x":0.9,"y":0.989},{"s":28,"x":1,"y":1},
{"s":29,"x":0,"y":0.16},{"s":29,"x":0.03,"y":0.18},{"s":29,"x":0.04,"y":0.48},{"s":29,"x":0.065,"y":0.51},{"s":29,"x":0.075,"y":0.63},{"s":29,"x":0.1,"y":0.65},{"s":29,"x":0.11,"y":0.74},{"s":29,"x":0.135,"y":0.76},{"s":29,"x":0.145,"y":0.81},{"s":29,"x":0.17,"y":0.82},{"s":29,"x":0.18,"y":0.855},{"s":29,"x":0.205,"y":0.86},{"s":29,"x":0.215,"y":0.878},{"s":29,"x":0.24,"y":0.883},{"s":29,"x":0.25,"y":0.893},{"s":29,"x":0.275,"y":0.898},{"s":29,"x":0.285,"y":0.905},{"s":29,"x":0.31,"y":0.91},{"s":29,"x":0.32,"y":0.915},{"s":29,"x":0.35,"y":0.92},{"s":29,"x":0.4,"y":0.929},{"s":29,"x":0.45,"y":0.937},{"s":29,"x":0.5,"y":0.944},{"s":29,"x":0.6,"y":0.956},{"s":29,"x":0.7,"y":0.968},{"s":29,"x":0.8,"y":0.978},{"s":29,"x":0.9,"y":0.989},{"s":29,"x":1,"y":1},
{"s":30,"x":0,"y":0.22},{"s":30,"x":0.03,"y":0.23},{"s":30,"x":0.04,"y":0.45},{"s":30,"x":0.065,"y":0.48},{"s":30,"x":0.075,"y":0.6},{"s":30,"x":0.1,"y":0.62},{"s":30,"x":0.11,"y":0.72},{"s":30,"x":0.135,"y":0.73},{"s":30,"x":0.145,"y":0.79},{"s":30,"x":0.17,"y":0.8},{"s":30,"x":0.18,"y":0.84},{"s":30,"x":0.205,"y":0.845},{"s":30,"x":0.215,"y":0.866},{"s":30,"x":0.24,"y":0.871},{"s":30,"x":0.25,"y":0.883},{"s":30,"x":0.275,"y":0.889},{"s":30,"x":0.285,"y":0.896},{"s":30,"x":0.31,"y":0.901},{"s":30,"x":0.32,"y":0.907},{"s":30,"x":0.35,"y":0.913},{"s":30,"x":0.4,"y":0.922},{"s":30,"x":0.45,"y":0.932},{"s":30,"x":0.5,"y":0.94},{"s":30,"x":0.6,"y":0.953},{"s":30,"x":0.7,"y":0.966},{"s":30,"x":0.8,"y":0.977},{"s":30,"x":0.9,"y":0.988},{"s":30,"x":1,"y":1},
{"s":31,"x":0,"y":0.14},{"s":31,"x":0.03,"y":0.15},{"s":31,"x":0.04,"y":0.24},{"s":31,"x":0.065,"y":0.25},{"s":31,"x":0.075,"y":0.29},{"s":31,"x":0.1,"y":0.305},{"s":31,"x":0.11,"y":0.35},{"s":31,"x":0.135,"y":0.365},{"s":31,"x":0.145,"y":0.41},{"s":31,"x":0.17,"y":0.425},{"s":31,"x":0.18,"y":0.465},{"s":31,"x":0.205,"y":0.48},{"s":31,"x":0.215,"y":0.52},{"s":31,"x":0.24,"y":0.535},{"s":31,"x":0.25,"y":0.565},{"s":31,"x":0.275,"y":0.58},{"s":31,"x":0.285,"y":0.61},{"s":31,"x":0.31,"y":0.625},{"s":31,"x":0.32,"y":0.65},{"s":31,"x":0.345,"y":0.665},{"s":31,"x":0.355,"y":0.69},{"s":31,"x":0.38,"y":0.705},{"s":31,"x":0.39,"y":0.73},{"s":31,"x":0.415,"y":0.745},{"s":31,"x":0.425,"y":0.77},{"s":31,"x":0.45,"y":0.785},{"s":31,"x":0.46,"y":0.805},{"s":31,"x":0.485,"y":0.815},{"s":31,"x":0.495,"y":0.835},{"s":31,"x":0.52,"y":0.845},{"s":31,"x":0.53,"y":0.86},{"s":31,"x":0.555,"y":0.87},{"s":31,"x":0.565,"y":0.885},{"s":31,"x":0.6,"y":0.9},{"s":31,"x":0.7,"y":0.945},{"s":31,"x":0.8,"y":0.972},{"s":31,"x":0.9,"y":0.99},{"s":31,"x":1,"y":1},
{"s":32,"x":0,"y":0.21},{"s":32,"x":0.03,"y":0.22},{"s":32,"x":0.04,"y":0.54},{"s":32,"x":0.065,"y":0.56},{"s":32,"x":0.075,"y":0.67},{"s":32,"x":0.1,"y":0.685},{"s":32,"x":0.11,"y":0.765},{"s":32,"x":0.135,"y":0.775},{"s":32,"x":0.145,"y":0.825},{"s":32,"x":0.17,"y":0.835},{"s":32,"x":0.18,"y":0.865},{"s":32,"x":0.205,"y":0.872},{"s":32,"x":0.215,"y":0.888},{"s":32,"x":0.24,"y":0.893},{"s":32,"x":0.25,"y":0.903},{"s":32,"x":0.275,"y":0.908},{"s":32,"x":0.285,"y":0.914},{"s":32,"x":0.31,"y":0.919},{"s":32,"x":0.32,"y":0.923},{"s":32,"x":0.35,"y":0.927},{"s":32,"x":0.4,"y":0.934},{"s":32,"x":0.45,"y":0.941},{"s":32,"x":0.5,"y":0.947},{"s":32,"x":0.6,"y":0.957},{"s":32,"x":0.7,"y":0.969},{"s":32,"x":0.8,"y":0.979},{"s":32,"x":0.9,"y":0.99},{"s":32,"x":1,"y":1},
{"s":33,"x":0,"y":0},{"s":33,"x":1,"y":1}
]},
"data":{"name":"pts"},
"transform":[{"lookup":"s","from":{"data":{"name":"names"},"key":"s","fields":["n"]}}],
"mark":{"type":"line","strokeWidth":1},
"encoding":{
"x":{"field":"x","type":"quantitative","scale":{"domain":[-0.05,1.05],"nice":false,"zero":false},"axis":{"title":"False Positive Rate","values":[0,0.2,0.4,0.6,0.8,1],"format":".1f","grid":false,"domain":false,"tickColor":"#000","tickSize":3,"tickWidth":0.8,"labelFont":"DejaVu Sans Mono","labelFontSize":4.8,"labelColor":"#000","labelPadding":2,"titleFont":"DejaVu Sans Mono","titleFontSize":5.1,"titleFontWeight":"normal","titleColor":"#000","titlePadding":1.5}},
"y":{"field":"y","type":"quantitative","scale":{"domain":[-0.05,1.05],"nice":false,"zero":false},"axis":{"title":"True Positive Rate","values":[0,0.2,0.4,0.6,0.8,1],"format":".1f","grid":false,"domain":false,"tickColor":"#000","tickSize":3,"tickWidth":0.8,"labelFont":"DejaVu Sans Mono","labelFontSize":4.8,"labelColor":"#000","labelPadding":3.5,"titleFont":"DejaVu Sans Mono","titleFontSize":5.1,"titleFontWeight":"normal","titleColor":"#000","titlePadding":1}},
"color":{"field":"n","type":"nominal","sort":{"field":"s","op":"min"},"scale":{"range":["#1f77b4","#ff7f0e","#2ca02c","#d62728","#9467bd","#8c564b","#e377c2","#7f7f7f","#bcbd22","#17becf","#1f77b4","#ff7f0e","#2ca02c","#d62728","#9467bd","#8c564b","#e377c2","#7f7f7f","#bcbd22","#17becf","#1f77b4","#ff7f0e","#2ca02c","#d62728","#9467bd","#8c564b","#e377c2","#7f7f7f","#bcbd22","#17becf","#1f77b4","#ff7f0e","#2ca02c","#666666"]},"legend":{"title":null,"orient":"none","legendX":359,"legendY":5.3,"symbolType":"M-2.05,0H2.05","symbolSize":49,"symbolStrokeWidth":1.5,"symbolOffset":3.5,"labelFont":"DejaVu Sans Mono","labelFontSize":5.2,"labelColor":"#000","labelOffset":6,"labelLimit":300,"rowPadding":0.58,"padding":1,"strokeColor":"#cccccc","fillColor":"#ffffff","cornerRadius":2,"symbolLimit":50}},
"strokeDash":{"field":"n","type":"nominal","sort":{"field":"s","op":"min"},"scale":{"range":[[1,0],[1,0],[1,0],[1,0],[1,0],[1,0],[1,0],[1,0],[1,0],[1,0],[1,0],[1,0],[1,0],[1,0],[1,0],[1,0],[1,0],[1,0],[1,0],[1,0],[1,0],[1,0],[1,0],[1,0],[1,0],[1,0],[1,0],[1,0],[1,0],[1,0],[1,0],[1,0],[1,0],[3,2]]},"legend":{"title":null,"orient":"none","legendX":359,"legendY":5.3,"symbolType":"M-2.05,0H2.05","symbolSize":49,"symbolStrokeWidth":1.5,"symbolOffset":3.5,"labelFont":"DejaVu Sans Mono","labelFontSize":5.2,"labelColor":"#000","labelOffset":6,"labelLimit":300,"rowPadding":0.58,"padding":1,"strokeColor":"#cccccc","fillColor":"#ffffff","cornerRadius":2,"symbolLimit":50}}
}}
